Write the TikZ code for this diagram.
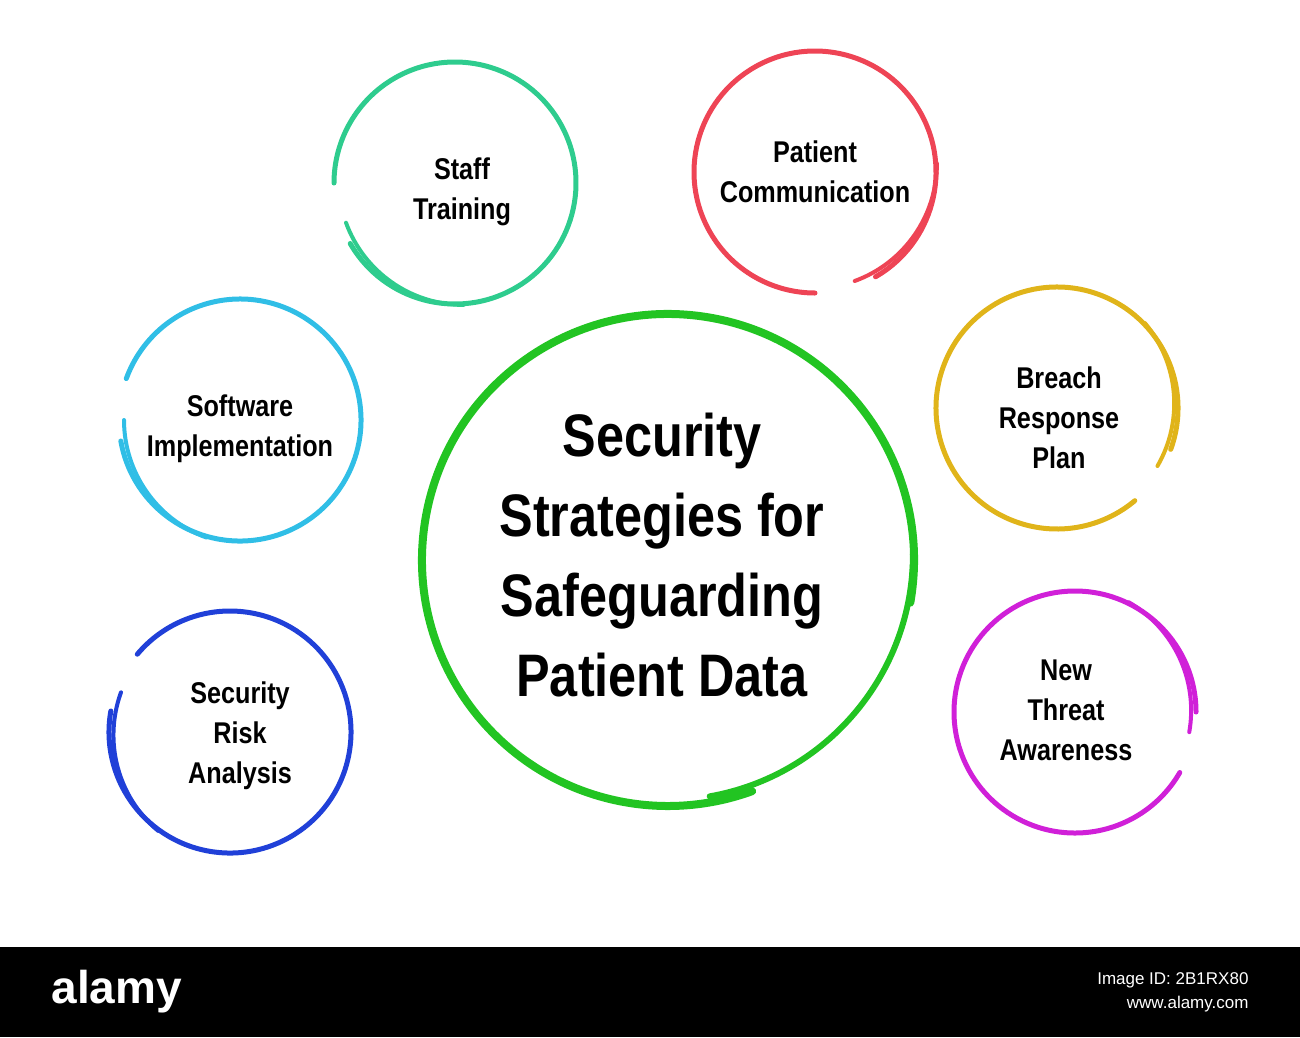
\documentclass[tikz,border=0pt]{standalone}
\usepackage{fontspec}
\setmainfont{Liberation Sans}[FakeStretch=0.84]
\newfontfamily\barfont{Liberation Sans}
\begin{document}
\begin{tikzpicture}[x=1pt,y=-1pt,
  lab/.style={align=center,font=\bfseries\fontsize{30}{40}\selectfont},
  ring/.style={line width=5pt,line cap=round}]
\useasboundingbox (0,0) rectangle (1300,1037);
\definecolor{colg}{HTML}{22C422}
\definecolor{colt}{HTML}{2ECC8E}
\definecolor{colr}{HTML}{EE4455}
\definecolor{colc}{HTML}{30BEE6}
\definecolor{coly}{HTML}{E0B41A}
\definecolor{colb}{HTML}{2040D8}
\definecolor{colm}{HTML}{D020D8}
% main
\draw[ring,line width=8pt,colg] (668,560) ++(10:246) arc[start angle=10,end angle=-290,radius=246];
\draw[ring,line width=6pt,colg] (668,560) ++(80:240) arc[start angle=80,end angle=0,radius=246];
\node[align=center,font=\bfseries\fontsize{60}{80}\selectfont] (main) at (662,555) {Security\\Strategies for\\Safeguarding\\Patient Data};
% small circles
\newcommand\hring[4]{%
 \draw[ring,#2] (#1) ++(#3:121) arc[start angle=#3,end angle=#3-330,radius=121];
 \draw[ring,line width=4pt,#2] (#1) ++(#3+10:116) arc[start angle=#3+10,end angle=#3-60,radius=125];}
\hring{455,183}{colt}{150}{}
\hring{815,172}{colr}{60}{}
\hring{240,420}{colc}{170}{}
\hring{1057,408}{coly}{20}{}
\hring{230,732}{colb}{190}{}
\hring{1075,712}{colm}{0}{}
\node[lab] (st) at (462,192) {Staff\\Training};
\node[lab] (pc) at (815,172) {Patient\\Communication};
\node[lab] (si) at (240,429) {Software\\Implementation};
\node[lab] (br) at (1059,418) {Breach\\Response\\Plan};
\node[lab] (sr) at (240,736) {Security\\Risk\\Analysis};
\node[lab] (nt) at (1066,710) {New\\Threat\\Awareness};
% bar
\fill[black] (0,947) rectangle (1300,1037);
\node[white,font=\barfont\bfseries\fontsize{46}{46}\selectfont,anchor=west] (al) at (48,992) {alamy};
\node[white,font=\barfont\fontsize{17}{24}\selectfont,align=right,anchor=east] (id) at (1252,992) {Image ID: 2B1RX80\\www.alamy.com};
\end{tikzpicture}
\end{document}
